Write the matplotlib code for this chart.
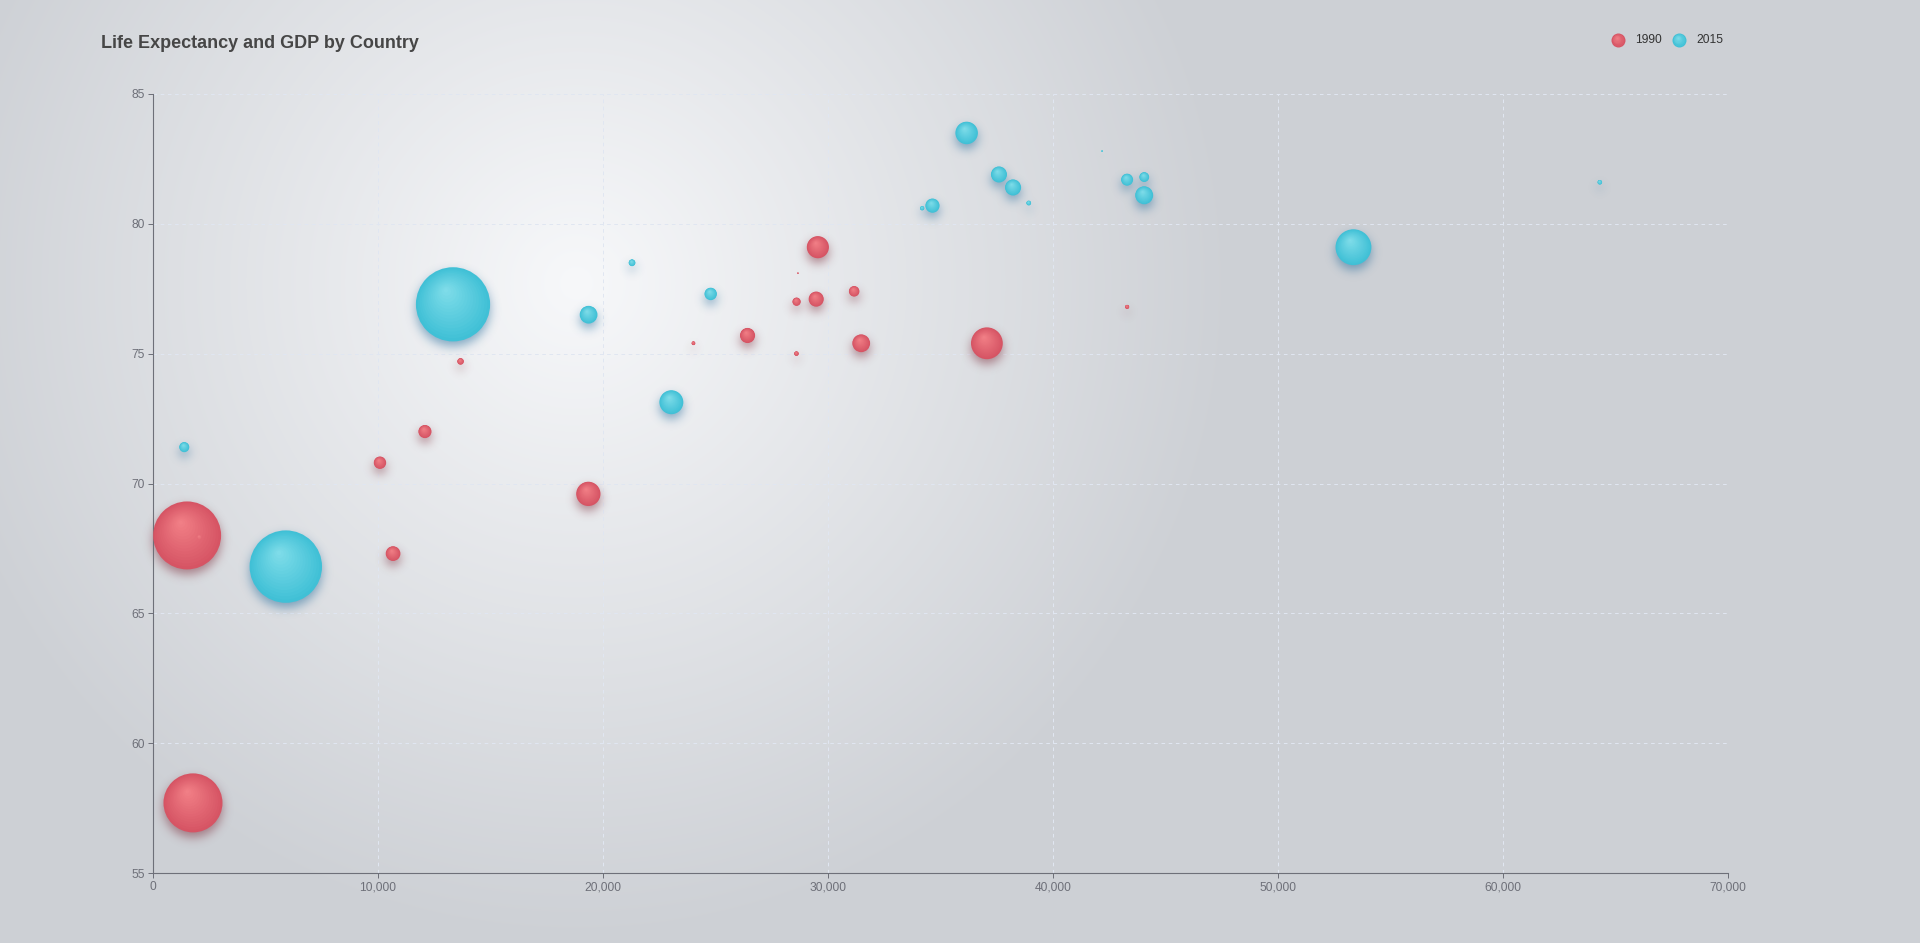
import numpy as np
import matplotlib.pyplot as plt
from matplotlib.colors import to_rgb
from matplotlib.ticker import FuncFormatter, MultipleLocator

plt.rcParams['font.family'] = ['Liberation Sans', 'DejaVu Sans']

countries = ['Australia', 'Canada', 'China', 'Cuba', 'Finland', 'France', 'Germany',
             'Iceland', 'India', 'Japan', 'North Korea', 'South Korea', 'New Zealand',
             'Norway', 'Poland', 'Russia', 'Turkey', 'United Kingdom', 'United States']

gdp_1990 = [28604, 31163, 1516, 13670, 28599, 29476, 31476, 28666, 1777, 29550,
            2076, 12087, 24021, 43296, 10088, 19349, 10670, 26424, 37062]
life_1990 = [77, 77.4, 68, 74.7, 75, 77.1, 75.4, 78.1, 57.7, 79.1,
             67.9, 72, 75.4, 76.8, 70.8, 69.6, 67.3, 75.7, 75.4]
pop_1990 = [17096869, 27662440, 1154605773, 10582082, 4986705, 56943299, 78958237,
            254830, 870601776, 122249285, 20194354, 42972254, 3397534, 4240375,
            38195258, 147568552, 53994605, 57110117, 252847810]

gdp_2015 = [44056, 43294, 13334, 21291, 38923, 37599, 44053, 42182, 5903, 36162,
            1390, 34644, 34186, 64304, 24787, 23038, 19360, 38225, 53354]
life_2015 = [81.8, 81.7, 76.9, 78.5, 80.8, 81.9, 81.1, 82.8, 66.8, 83.5,
             71.4, 80.7, 80.6, 81.6, 77.3, 73.13, 76.5, 81.4, 79.1]
pop_2015 = [23968973, 35939927, 1376048943, 11389562, 5503457, 64395345, 80688545,
            329425, 1311050527, 126573481, 25155317, 50293439, 4528526, 5210967,
            38611794, 143456918, 78665830, 64715810, 321773631]

W, H, DPI = 1920, 943, 100
PT = 72 / DPI  # points per pixel

RED = dict(light=(243, 130, 136), edge=(214, 84, 100), shadow=(120, 36, 50))
CYAN = dict(light=(130, 222, 234), edge=(64, 192, 214), shadow=(25, 100, 150))

fig = plt.figure(figsize=(W / DPI, H / DPI), dpi=DPI)

# background radial gradient
bg = fig.add_axes([0, 0, 1, 1])
bg.set_zorder(0)
yy, xx = np.mgrid[0:H, 0:W]
dist = np.hypot(xx - 0.3 * W, yy - 0.3 * H) / (0.7 * min(W, H))
t = np.clip(dist, 0, 1)[..., None]
c0 = np.array(to_rgb('#f7f8fa'))
c1 = np.array(to_rgb('#cdd0d5'))
bg.imshow(c0 + (c1 - c0) * t, extent=[0, W, H, 0], aspect='auto', interpolation='bilinear')
bg.set_xlim(0, W)
bg.set_ylim(H, 0)
bg.axis('off')

ax = fig.add_axes([153 / W, 70 / H, 1575 / W, 779 / H])
ax.set_zorder(1)
ax.patch.set_alpha(0)
ax.set_xlim(0, 70000)
ax.set_ylim(55, 85)

# gaussian kernel in frequency space (shadowBlur 10 -> sigma 5)
fy = np.fft.fftfreq(H)[:, None]
fx = np.fft.rfftfreq(W)[None, :]
blur_k = np.exp(-2 * np.pi ** 2 * 5 ** 2 * (fx ** 2 + fy ** 2))


def shadow_layer(a, x, y, d_px, color, z, alpha=0.5, dy=5):
    pts = a.transData.transform(np.column_stack([x, y]))
    mask = np.zeros((H, W))
    for (px, py), d in zip(pts, d_px):
        cx, cy, r = px, H - py + dy, d / 2
        x0, x1 = int(max(cx - r - 2, 0)), int(min(cx + r + 3, W))
        y0, y1 = int(max(cy - r - 2, 0)), int(min(cy + r + 3, H))
        if x1 <= x0 or y1 <= y0:
            continue
        sub = np.hypot(xx[y0:y1, x0:x1] + 0.5 - cx, yy[y0:y1, x0:x1] + 0.5 - cy)
        mask[y0:y1, x0:x1] += np.clip(r - sub + 0.5, 0, 1)
    blurred = np.fft.irfft2(np.fft.rfft2(mask) * blur_k, s=(H, W))
    rgba = np.zeros((H, W, 4))
    rgba[..., :3] = np.array(color) / 255
    rgba[..., 3] = np.clip(alpha * blurred, 0, 1)
    inv = a.transData.inverted()
    (l, b), (r_, t_) = inv.transform([[0, 0], [W, H]])
    xl, yl = a.get_xlim(), a.get_ylim()
    a.imshow(rgba, extent=[l, r_, b, t_], origin='upper', aspect='auto',
             interpolation='nearest', zorder=z, clip_on=False)
    a.set_xlim(xl)
    a.set_ylim(yl)


def gradient_dots(a, x, y, d_px, style, z, layers=16):
    light = np.array(style['light']) / 255
    edge = np.array(style['edge']) / 255
    d_px = np.asarray(d_px, dtype=float)
    pts = a.transData.transform(np.column_stack([x, y]))
    inv = a.transData.inverted()
    # nested circles toward the highlight at (0.4, 0.3) of the box
    for k in range(layers):
        f = 1 - k / layers
        off = (1 - f) * np.column_stack([-0.1 * d_px, 0.2 * d_px])
        p = inv.transform(pts + off)
        col = light + (edge - light) * f
        a.scatter(p[:, 0], p[:, 1], s=(f * d_px * PT) ** 2, color=col,
                  linewidths=0, zorder=z + 0.01 * k, clip_on=False)


size_1990 = np.sqrt(pop_1990) / 500
size_2015 = np.sqrt(pop_2015) / 500

shadow_layer(ax, gdp_1990, life_1990, size_1990, RED['shadow'], 2)
gradient_dots(ax, gdp_1990, life_1990, size_1990, RED, 3)
shadow_layer(ax, gdp_2015, life_2015, size_2015, CYAN['shadow'], 4)
gradient_dots(ax, gdp_2015, life_2015, size_2015, CYAN, 5)

# axes styling
axis_col = '#6E7079'
ax.xaxis.set_major_locator(MultipleLocator(10000))
ax.yaxis.set_major_locator(MultipleLocator(5))
ax.xaxis.set_major_formatter(FuncFormatter(lambda v, p: f'{int(v):,}'))
ax.grid(True, color='#E0E6F1', linestyle=(0, (3.6, 3.6)), linewidth=0.72, zorder=0)
ax.set_axisbelow(True)
for s in ['top', 'right']:
    ax.spines[s].set_visible(False)
for s in ['left', 'bottom']:
    ax.spines[s].set_color(axis_col)
    ax.spines[s].set_linewidth(0.8)
ax.tick_params(colors=axis_col, labelsize=8.64, length=3.6, width=0.72, pad=2.2,
               direction='out')

# title
fig.text(101 / W, 1 - 48 / H, 'Life Expectancy and GDP by Country', fontsize=12.96,
         fontweight='bold', color='#464646', ha='left', va='baseline')

# legend
leg_x = [1618, 1679]
leg_y = [40, 40]
for lx, ly, st in zip(leg_x, leg_y, [RED, CYAN]):
    gradient_dots(bg, [lx], [ly], [14], st, 3, layers=8)
for lx, lab in zip(leg_x, ['1990', '2015']):
    bg.text(lx + 17, 40, lab, fontsize=8.64, color='#333333', ha='left', va='center')

fig.savefig('out.png', dpi=DPI)
